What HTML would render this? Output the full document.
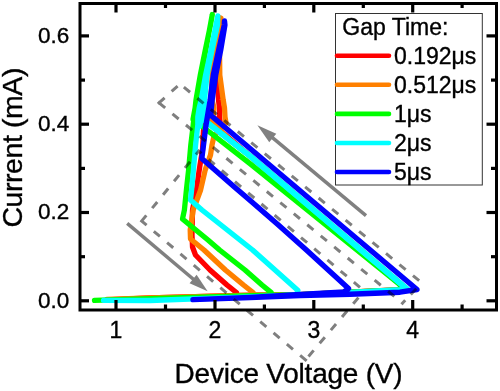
<!DOCTYPE html>
<html><head><meta charset="utf-8">
<style>
html,body{margin:0;padding:0;background:#fff;}
body{width:500px;height:391px;overflow:hidden;}
svg{display:block;}
text{font-family:"Liberation Sans",Arial,sans-serif;fill:#000;stroke:#000;stroke-width:0.35px;}
</style></head>
<body>
<svg width="500" height="391" viewBox="0 0 500 391">
<rect x="0" y="0" width="500" height="391" fill="#fff"/>
<g fill="none" stroke-linejoin="round" stroke-linecap="round" stroke-width="5.3">
  <polyline stroke="#ff0000" points="112,299.6 150,298 250,295.1 300,294.6 345,292.4 400,289.6 405,288.5 209,121 214,60 219,18 218,60 218,90 218.5,100 219.5,108 219.5,117 220,121 214,118 206,121 203.5,130 202.5,150 200,165 198.5,175 196.5,190 194.5,200 192.5,210 192,235 192.5,247 195.5,255 210,270 227,285 236.4,292.5"/>
  <polyline stroke="#ff8000" points="107,299.5 150,297.9 250,295.1 300,294.6 345,292.4 400,289.6 405,288.5 407,289 250,156 230,140.4 211,120.5 213,117 214,108 212,100 212,75 215,50 219.5,25 221,18 219.5,50 219.8,75 223.2,100 224.5,108 225,117 226,123 214,136 212,145 210.5,155 205.2,170 200.6,190 193.2,210 190.2,230 190.5,239 204,250 225.4,270 243.5,285 253,292.5"/>
  <polyline stroke="#00ff00" points="94.5,300.3 150,298.6 250,295.7 300,294.6 345,292.3 400,289.8 403,288.5 399,284 250,163.6 207.5,130.5 193,119.5 212.3,14.5 210.5,25 205.3,50 200.3,75 196,100 193.2,125 190.8,145 188.6,170 186.4,190 184.4,210 182.5,219 208,240 219.6,250 245,270 262,285 271,292.4"/>
  <polyline stroke="#00ffff" points="103.5,300.3 150,300.5 250,296.8 300,294.8 345,292.6 400,289.6 407,289 250,156 208,123.2 203.5,119.5 204.5,100 207,75 212,50 217.5,25 217.8,16 216,25 211,50 205.6,75 201.2,100 199.2,108 197.8,117 197.8,125 195.6,145 193.4,170 191.6,190 190.5,200 202,210 221,225 252.6,250 298,290.5 296,295"/>
  <polyline stroke="#00ffff" stroke-width="5.8" points="407,289 250,156 208,123.2 203.5,119.5"/>
  <polyline stroke="#00ffff" points="199.8,126 202.5,112"/>
  <polyline stroke="#0000ff" stroke-width="5.4" points="193,299.6 250,297.6 300,295.5 350,294.2 400,292.2 417,289.5 210.7,115.2 212.1,100 215.7,75 220.7,50 224.9,25 224.5,21 224.3,25 218.7,50 213.3,75 210.2,100 206,125 203.5,145 201.8,158.5 235,187.5 249.6,200 278.4,225 306.4,250 348.5,288.5 344,292 300,294.5 250,297.4 193,299.6"/>
</g>
<path fill="none" stroke="#7f7f7f" stroke-width="3" style="mix-blend-mode:multiply" d="M157.88,103.80L164.59,97.80M171.63,91.49L177.59,86.16M183.86,87.18L190.04,92.26M197.34,98.26L203.52,103.34M210.81,109.35L216.99,114.43M224.29,120.43L230.47,125.51M237.77,131.52L243.95,136.60M251.24,142.60L257.42,147.69M264.72,153.69L270.90,158.77M278.20,164.77L284.37,169.86M291.67,175.86L297.85,180.94M305.15,186.95L311.33,192.03M318.63,198.03L324.80,203.11M332.10,209.12L338.28,214.20M345.58,220.20L351.76,225.28M359.06,231.29L365.23,236.37M372.53,242.37L378.71,247.46M386.01,253.46L392.19,258.54M399.48,264.54L405.66,269.63M412.96,275.63L419.14,280.71M416.27,288.68L410.75,294.47M405.22,300.25L401.46,304.18M403.66,304.05L401.57,302.34M394.28,296.33L388.10,291.25M380.80,285.25L374.62,280.17M367.32,274.16L361.14,269.08M353.85,263.08L347.67,258.00M340.37,251.99L334.19,246.91M326.89,240.91L320.71,235.82M313.42,229.82L307.24,224.74M299.94,218.74L293.76,213.65M286.46,207.65L280.29,202.57M272.99,196.56L266.81,191.48M259.51,185.48L253.33,180.40M246.03,174.39L239.86,169.31M232.56,163.31L226.38,158.23M219.08,152.22L212.90,147.14M205.61,141.14L199.43,136.05M192.13,130.05L185.95,124.97M178.65,118.97L172.47,113.88M165.18,107.88L157.84,101.85M140.75,222.16L146.31,215.34M152.19,208.14L157.25,201.94M163.12,194.73L168.18,188.53M174.06,181.32L179.11,175.12M184.99,167.91L190.05,161.71M195.92,154.51L199.70,149.88M197.60,150.07L201.45,153.32M208.55,159.33L214.65,164.49M221.75,170.50L227.86,175.66M234.96,181.67L241.07,186.84M248.17,192.84L254.28,198.01M261.38,204.02L267.49,209.18M274.59,215.19L280.70,220.35M287.80,226.36L293.91,231.53M301.01,237.53L307.11,242.70M314.21,248.70L320.32,253.87M327.42,259.88L333.53,265.04M340.63,271.05L346.74,276.22M353.84,282.22L359.95,287.39M358.41,297.61L353.23,303.71M347.22,310.81L342.04,316.91M336.03,324.00L330.86,330.10M324.84,337.19L319.67,343.30M313.65,350.39L308.48,356.49M306.64,360.97L300.16,355.47M292.96,349.36L286.86,344.18M279.65,338.07L273.55,332.89M266.35,326.78L260.25,321.60M253.04,315.48L246.94,310.31M239.74,304.19L233.64,299.02M226.43,292.90L220.33,287.73M213.13,281.61L207.03,276.44M199.82,270.32L193.72,265.15M186.52,259.03L180.42,253.86M173.21,247.74L167.11,242.56M159.91,236.45L153.81,231.27M146.60,225.16L140.56,220.03"/>
<g stroke="#808080" fill="#808080">
  <line x1="127.20" y1="223.30" x2="194.61" y2="280.23" stroke-width="3.5"/><polygon stroke="none" points="207.60,291.20 189.54,283.14 196.63,274.74"/><line x1="366.00" y1="215.60" x2="271.23" y2="136.72" stroke-width="3.5"/><polygon stroke="none" points="257.40,125.20 276.29,133.77 269.25,142.22"/>
</g>
<rect x="80" y="3.5" width="416.5" height="306.5" fill="none" stroke="#000" stroke-width="3"/>
<g stroke="#000" stroke-width="3.2">
  <line x1="116" y1="309" x2="116" y2="300"/>
  <line x1="116" y1="4" x2="116" y2="12.5"/>
  <line x1="215" y1="309" x2="215" y2="300"/>
  <line x1="215" y1="4" x2="215" y2="12.5"/>
  <line x1="313.8" y1="309" x2="313.8" y2="300"/>
  <line x1="313.8" y1="4" x2="313.8" y2="12.5"/>
  <line x1="412.7" y1="309" x2="412.7" y2="300"/>
  <line x1="412.7" y1="4" x2="412.7" y2="12.5"/>
  <line x1="165.5" y1="309" x2="165.5" y2="304.5"/>
  <line x1="165.5" y1="4" x2="165.5" y2="8"/>
  <line x1="264.4" y1="309" x2="264.4" y2="304.5"/>
  <line x1="264.4" y1="4" x2="264.4" y2="8"/>
  <line x1="363.3" y1="309" x2="363.3" y2="304.5"/>
  <line x1="363.3" y1="4" x2="363.3" y2="8"/>
  <line x1="462.1" y1="309" x2="462.1" y2="304.5"/>
  <line x1="462.1" y1="4" x2="462.1" y2="8"/>
  <line x1="81" y1="300.8" x2="89" y2="300.8"/>
  <line x1="496" y1="300.8" x2="486.5" y2="300.8"/>
  <line x1="81" y1="212.5" x2="89" y2="212.5"/>
  <line x1="496" y1="212.5" x2="486.5" y2="212.5"/>
  <line x1="81" y1="124.2" x2="89" y2="124.2"/>
  <line x1="496" y1="124.2" x2="486.5" y2="124.2"/>
  <line x1="81" y1="35.9" x2="89" y2="35.9"/>
  <line x1="496" y1="35.9" x2="486.5" y2="35.9"/>
  <line x1="81" y1="256.7" x2="85" y2="256.7"/>
  <line x1="496" y1="256.7" x2="491" y2="256.7"/>
  <line x1="81" y1="168.4" x2="85" y2="168.4"/>
  <line x1="496" y1="168.4" x2="491" y2="168.4"/>
  <line x1="81" y1="80.1" x2="85" y2="80.1"/>
  <line x1="496" y1="80.1" x2="491" y2="80.1"/>
</g>
<g font-size="22.5" text-anchor="end">
  <text x="69.3" y="307.8">0.0</text>
  <text x="69.3" y="219.4">0.2</text>
  <text x="69.3" y="130.6">0.4</text>
  <text x="69.3" y="42.8">0.6</text>
</g>
<g font-size="23" text-anchor="middle">
  <text x="116" y="338">1</text>
  <text x="215" y="338">2</text>
  <text x="313.8" y="338">3</text>
  <text x="412.7" y="338">4</text>
</g>
<text x="174.6" y="383" font-size="28" textLength="228" lengthAdjust="spacing">Device Voltage (V)</text>
<text transform="translate(22.2,227.6) rotate(-90)" font-size="28.5" textLength="160" lengthAdjust="spacing">Current (mA)</text>
<rect x="335.5" y="13.5" width="146.8" height="171.5" fill="#fff" stroke="#333" stroke-width="1"/>
<text x="342.3" y="35.2" font-size="23">Gap Time:</text>
<g stroke-width="4.6" stroke-linecap="round">
  <line x1="337" y1="55.8" x2="389" y2="55.8" stroke="#ff0000"/>
  <line x1="337" y1="84.8" x2="389" y2="84.8" stroke="#ff8000"/>
  <line x1="337" y1="113.9" x2="389" y2="113.9" stroke="#00ff00"/>
  <line x1="337" y1="143" x2="389" y2="143" stroke="#00ffff"/>
  <line x1="337" y1="172" x2="389" y2="172" stroke="#0000ff"/>
</g>
<g font-size="23">
  <text x="394" y="63.6">0.192μs</text>
  <text x="394" y="92.8">0.512μs</text>
  <text x="394" y="121.9">1μs</text>
  <text x="394" y="151">2μs</text>
  <text x="394" y="180">5μs</text>
</g>
</svg>
</body></html>
